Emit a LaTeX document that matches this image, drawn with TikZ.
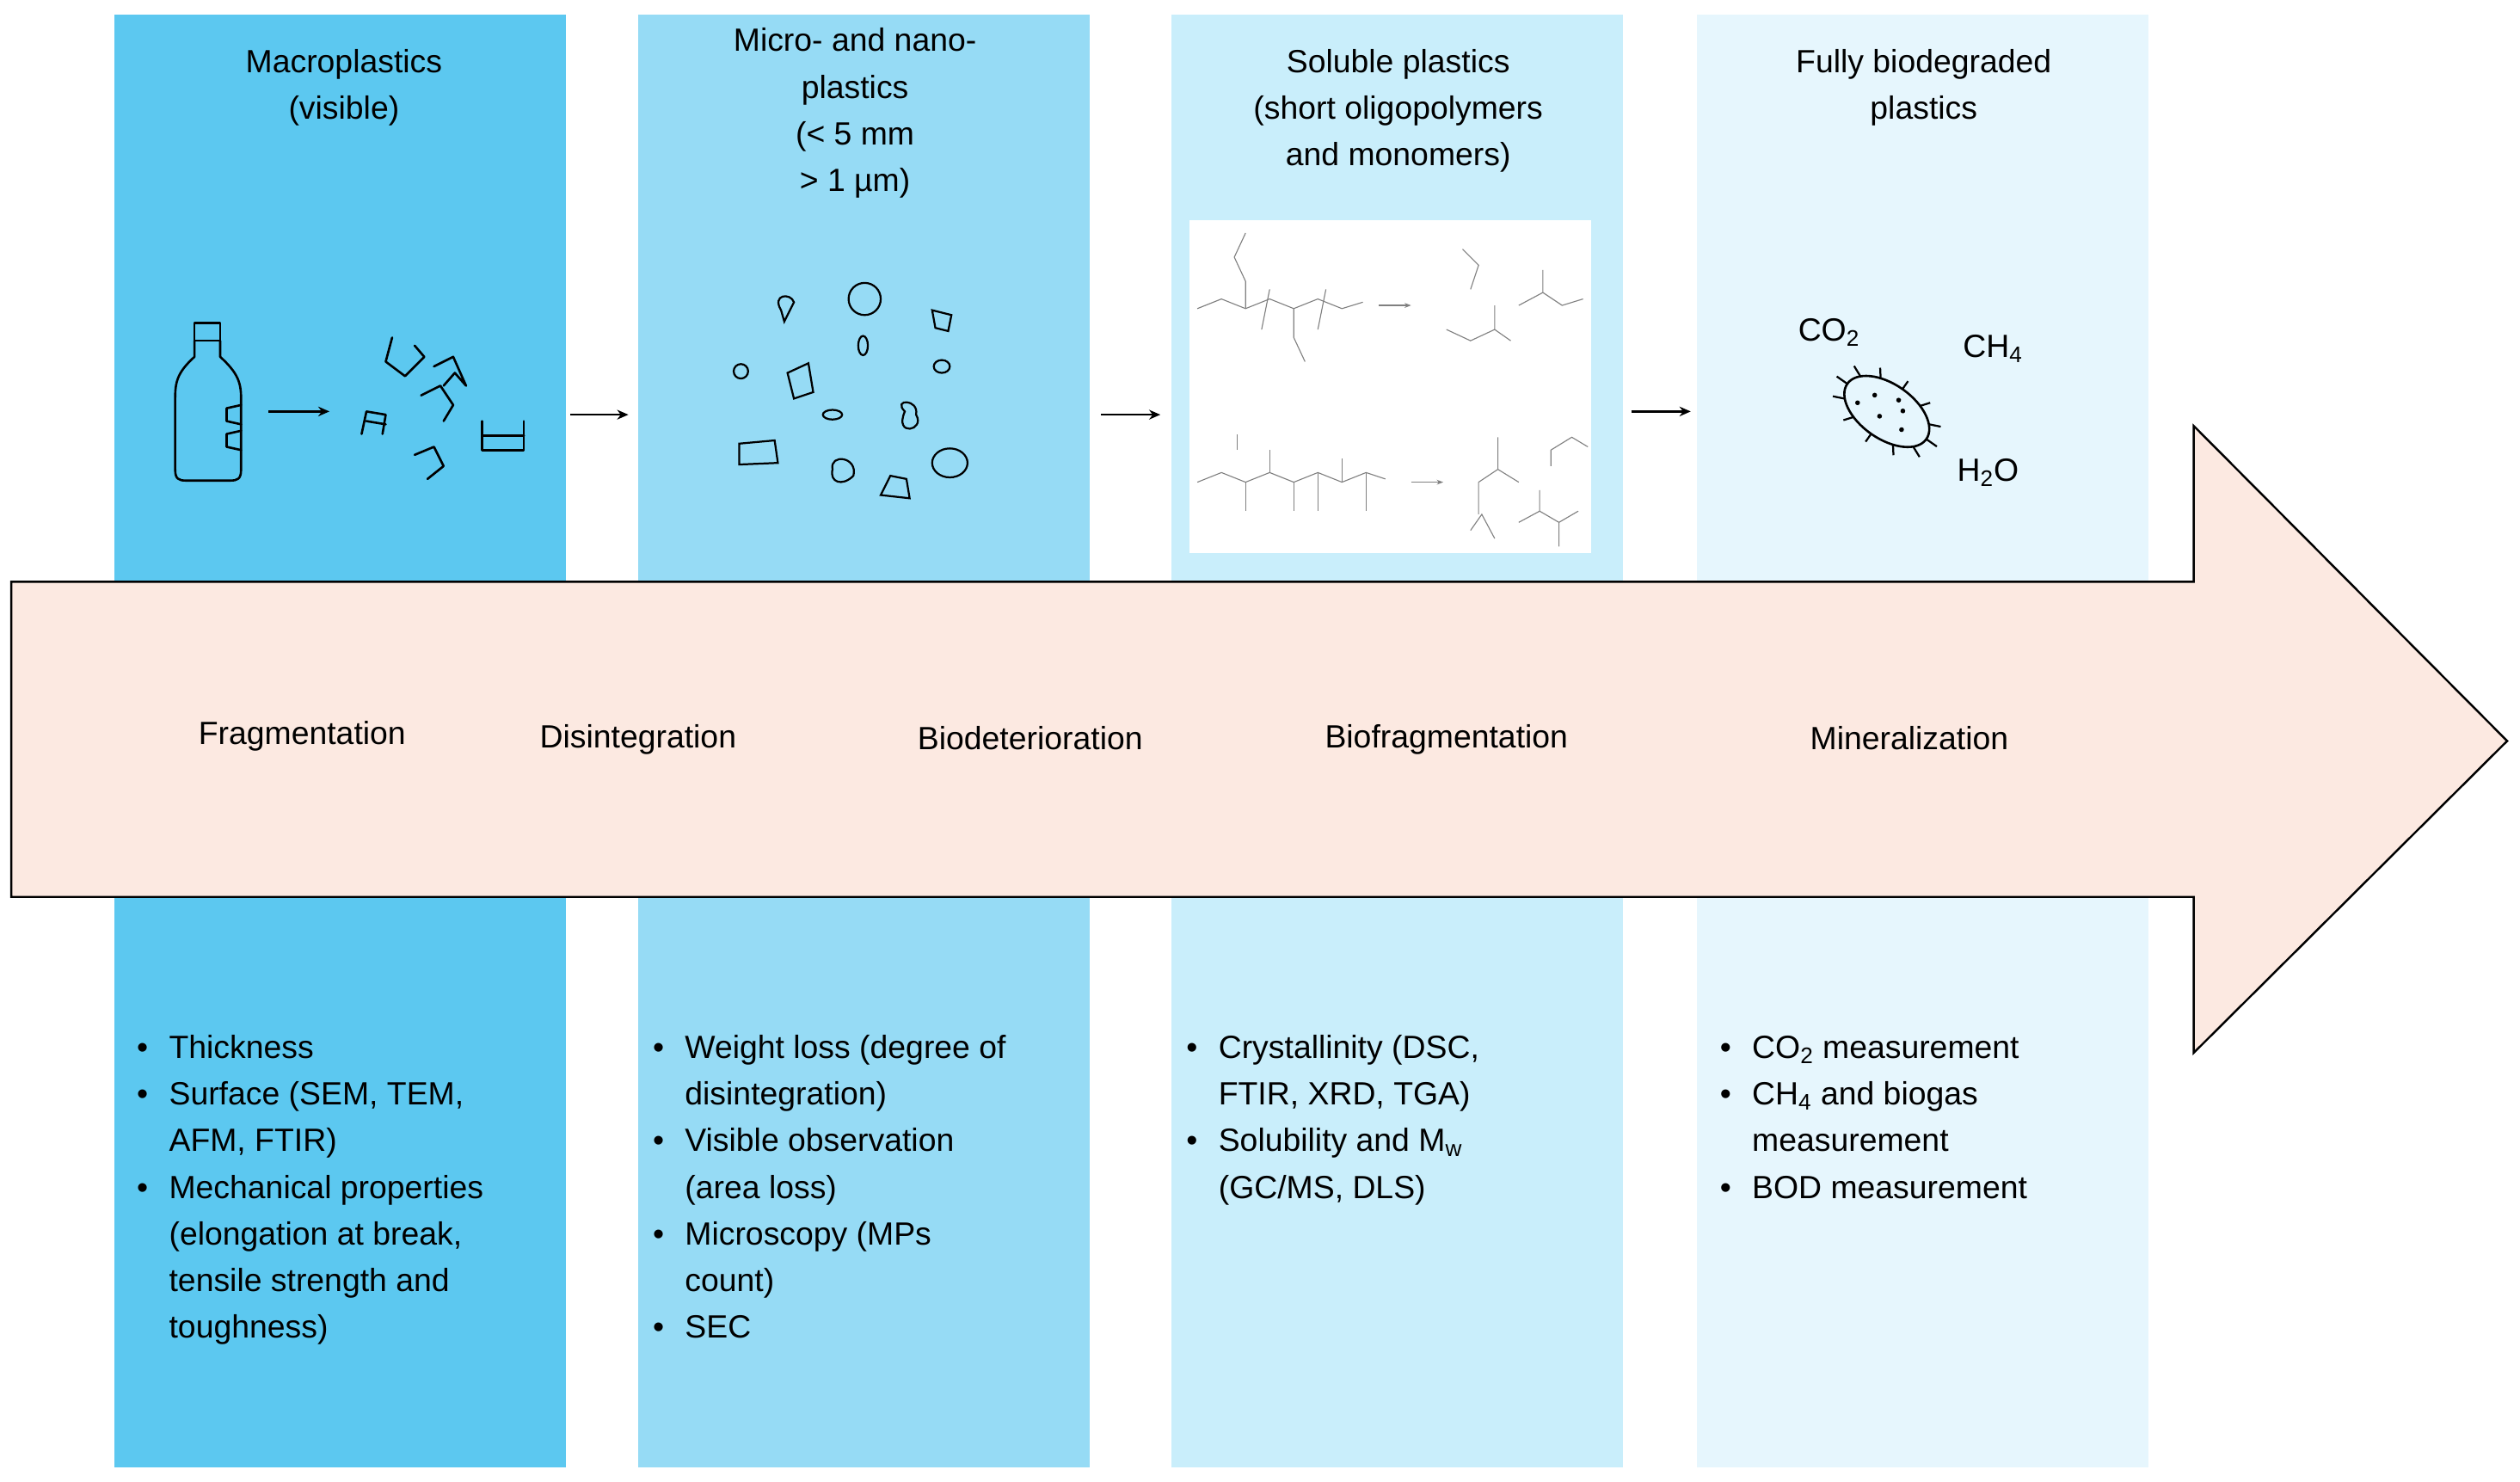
\documentclass[tikz,border=0pt]{standalone}
\usepackage{fontspec}
\setmainfont{Liberation Sans}
\usetikzlibrary{arrows.meta,shapes.geometric}
\begin{document}
\begin{tikzpicture}[x=1pt,y=-1pt,
  ttl/.style={align=center,font=\fontsize{20}{29}\selectfont},
  lbl/.style={font=\fontsize{20}{24}\selectfont},
  lst/.style={anchor=north west,inner sep=0pt,align=left,font=\fontsize{20}{29}\selectfont},
  sm/.style={-{Stealth[length=7pt,width=6pt]},line width=1.3pt},
  ic/.style={line width=1.4pt,line join=round,line cap=round}]
\useasboundingbox (0,0) rectangle (1568,922);
\fill[white] (0,0) rectangle (1568,922);
\fill[fill={rgb,255:red,92;green,200;blue,240}] (71,9) rectangle (352,913);
\fill[fill={rgb,255:red,150;green,219;blue,245}] (397,9) rectangle (678,913);
\fill[fill={rgb,255:red,201;green,238;blue,251}] (729,9) rectangle (1010,913);
\fill[fill={rgb,255:red,230;green,246;blue,253}] (1056,9) rectangle (1337,913);
% big arrow
\draw[line width=1.3pt,fill={rgb,255:red,252;green,233;blue,225}] (7,362) -- (1365,362) -- (1365,265) -- (1560,461) -- (1365,655) -- (1365,558) -- (7,558) -- cycle;
% titles
\node[ttl,anchor=north] (t1) at (214,27) {Macroplastics\\(visible)};
\node[ttl,anchor=north] (t2) at (532,14) {Micro- and nano-\\plastics\\(< 5 mm\\ > 1 µm)};
\node[ttl,anchor=north] (t3) at (870,27) {Soluble plastics\\(short oligopolymers\\and monomers)};
\node[ttl,anchor=north] (t4) at (1197,27) {Fully biodegraded\\plastics};
% arrow labels
\node[lbl] (l1) at (188,458) {Fragmentation};
\node[lbl] (l2) at (397,460) {Disintegration};
\node[lbl] (l3) at (641,459) {Biodeterioration};
\node[lbl] (l4) at (900,460) {Biofragmentation};
\node[lbl] (l5) at (1188,459) {Mineralization};
% lists
\node[lst] (b1) at (85,638) {\begin{tabular}{@{}l@{\hspace{13pt}}l@{}}
•&Thickness\\ •&Surface (SEM, TEM,\\ &AFM, FTIR)\\ •&Mechanical properties\\ &(elongation at break,\\ &tensile strength and\\ &toughness)\end{tabular}};
\node[lst] (b2) at (406,638) {\begin{tabular}{@{}l@{\hspace{13pt}}l@{}}
•&Weight loss (degree of\\ &disintegration)\\ •&Visible observation\\ &(area loss)\\ •&Microscopy (MPs\\ &count)\\ •&SEC\end{tabular}};
\node[lst] (b3) at (738,638) {\begin{tabular}{@{}l@{\hspace{13pt}}l@{}}
•&Crystallinity (DSC,\\ &FTIR, XRD, TGA)\\ •&Solubility and M\textsubscript{w}\\ &(GC/MS, DLS)\end{tabular}};
\node[lst] (b4) at (1070,638) {\begin{tabular}{@{}l@{\hspace{13pt}}l@{}}
•&CO\textsubscript{2} measurement\\ •&CH\textsubscript{4} and biogas\\ &measurement\\ •&BOD measurement\end{tabular}};
% bottle
\draw[ic] (121,201) rectangle (137,212);
\draw[ic] (121,212) -- (121,222) .. controls (110,232) and (109,238) .. (109,248) -- (109,292) .. controls (109,298) and (111,299) .. (116,299) -- (143,299) .. controls (148,299) and (150,298) .. (150,292) -- (150,248) .. controls (150,238) and (148,232) .. (137,222) -- (137,212);
\draw[ic] (150,252) -- (141,254) -- (141,262) -- (150,264);
\draw[ic] (150,268) -- (141,270) -- (141,278) -- (150,280);
% fragments
\draw[ic] (244,210) -- (240,225) -- (252,234) -- (264,222) -- (258,215);
\draw[ic] (270,228) -- (282,222) -- (290,240) -- (283,232) -- (276,240);
\draw[ic] (225,270) -- (228,256) -- (240,258) -- (238,270) (228,262)--(240,264);
\draw[ic] (262,246) -- (274,240) -- (282,252) -- (276,262);
\draw[ic] (258,283) -- (270,278) -- (276,290) -- (266,298);
\draw[ic] (300,262) -- (300,280) -- (326,280) -- (326,262) (300,271)--(326,271);
% small arrows
\coordinate (a1s) at (167,256); \coordinate (a1e) at (205,256);
\coordinate (a2s) at (355,258); \coordinate (a2e) at (391,258);
\coordinate (a3s) at (685,258); \coordinate (a3e) at (722,258);
\coordinate (a4s) at (1015,256); \coordinate (a4e) at (1052,256);
\draw[sm] (a1s) -- (a1e); \draw[sm] (a2s) -- (a2e); \draw[sm] (a3s) -- (a3e); \draw[sm] (a4s) -- (a4e);
% microplastics
\begin{scope}[line width=1.2pt]
\draw (486,193) .. controls (480,183) and (492,182) .. (494,188) -- (488,200) -- cycle;
\draw (538,186) circle (10);
\draw (580,193) -- (592,196) -- (590,206) -- (582,204) -- cycle;
\draw (537,215) ellipse (3 and 6);
\draw (586,228) ellipse (5 and 4);
\draw (461,231) circle (4.5);
\draw (490,232) -- (503,226) -- (506,244) -- (494,248) -- cycle;
\draw (518,258) ellipse (6 and 3);
\draw (563,256) .. controls (555,248) and (572,248) .. (570,258) .. controls (576,268) and (556,272) .. cycle;
\draw (460,276) -- (482,274) -- (484,288) -- (460,289) -- cycle;
\draw (518,292) .. controls (516,282) and (534,284) .. (531,296) .. controls (524,303) and (516,300) .. cycle;
\draw (548,308) -- (554,296) -- (564,298) -- (566,310) -- cycle;
\draw (591,288) ellipse (11 and 9);
\end{scope}
% chemistry panel
\fill[white] (740,137) rectangle (990,344);
\begin{scope}[gray,line width=0.6pt]
\draw (745,192) -- (760,186) -- (775,192) -- (790,186) -- (805,192) -- (820,186) -- (835,192) -- (848,188);
\draw (775,192) -- (775,175) -- (768,160) -- (775,145);
\draw (805,192) -- (805,210) -- (812,225);
\draw (790,180) -- (785,205) (825,180) -- (820,205);
\draw[-{Stealth[length=4pt]}] (858,190) -- (878,190);
\draw (910,155) -- (920,165) -- (915,180);
\draw (900,205) -- (915,212) -- (930,205) -- (940,212) (930,205) -- (930,190);
\draw (945,190) -- (960,182) -- (972,190) -- (985,186) (960,182) -- (960,168);
\draw (745,300) -- (760,294) -- (775,300) -- (790,294) -- (805,300) -- (820,294) -- (835,300) -- (850,294) -- (862,298);
\draw (775,300) -- (775,318) (790,294) -- (790,280) (820,294) -- (820,318) (850,294) -- (850,318) (835,300) -- (835,285);
\draw (770,280) -- (770,270) (805,300) -- (805,318);
\draw[-{Stealth[length=4pt]}] (878,300) -- (898,300);
\draw (920,300) -- (932,292) -- (945,300) (932,292) -- (932,272) (920,300) -- (920,320);
\draw (965,280) -- (978,272) -- (988,278) (965,280) -- (965,290);
\draw (915,330) -- (922,320) -- (930,335) (945,325) -- (958,318) -- (970,325) -- (982,318) (958,318) -- (958,305) (970,325) -- (970,340);
\end{scope}
% bacterium
\begin{scope}[shift={(1174,256)},rotate=-35]
\draw[line width=1.4pt] (0,0) ellipse (30 and 17);
\foreach \a in {0,30,...,330} \draw[line width=1.2pt] ({30*cos(\a)},{17*sin(\a)}) -- ({38*cos(\a)},{23*sin(\a)});
\foreach \p in {(-12,-4),(-2,5),(8,-6),(14,4),(-18,6),(2,-10)} \fill \p circle (1.5);
\end{scope}
\node[lbl] (co2) at (1138,207) {CO\textsubscript{2}};
\node[lbl] (ch4) at (1240,217) {CH\textsubscript{4}};
\node[lbl] (h2o) at (1237,294) {H\textsubscript{2}O};
\end{tikzpicture}
\end{document}
